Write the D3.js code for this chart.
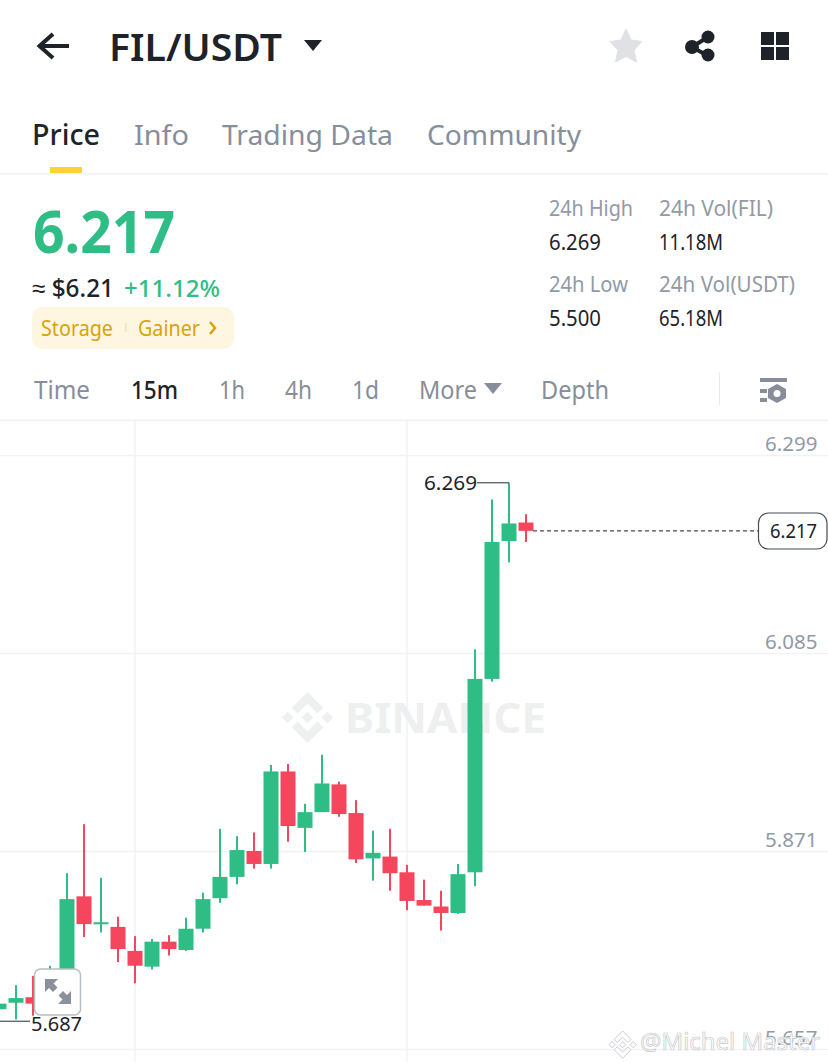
<!DOCTYPE html>
<html>
<head>
<meta charset="utf-8">
<script src="https://cdnjs.cloudflare.com/ajax/libs/d3/7.8.5/d3.min.js"></script>
<style>
  body { margin: 0; background: #fff; overflow: hidden; }
  text { font-family: "Noto Sans", sans-serif; }
</style>
</head>
<body>
<svg id="chart" width="828" height="1063"></svg>
<script>
// candles, left to right
const opens  = [5.700,5.707,5.713,5.713,5.742,5.822,5.792,5.789,5.763,5.746,5.773,5.764,5.787,5.820,5.843,5.871,5.857,5.957,5.896,5.913,5.943,5.912,5.863,5.865,5.848,5.818,5.811,5.804,5.848,6.057,6.206,6.226];
const closes = [5.706,5.712,5.706,5.742,5.819,5.792,5.794,5.765,5.747,5.773,5.765,5.787,5.819,5.843,5.872,5.857,5.957,5.898,5.913,5.944,5.911,5.862,5.869,5.847,5.817,5.812,5.804,5.846,6.057,6.205,6.225,6.217];
const highs  = [5.727,5.726,5.736,5.747,5.847,5.900,5.842,5.800,5.779,5.776,5.780,5.799,5.826,5.895,5.887,5.891,5.964,5.965,5.922,5.975,5.946,5.926,5.893,5.895,5.856,5.840,5.828,5.857,6.089,6.251,6.269,6.235];
const lows   = [5.687,5.689,5.693,5.705,5.738,5.778,5.783,5.751,5.728,5.743,5.758,5.763,5.783,5.815,5.835,5.852,5.852,5.881,5.870,5.913,5.908,5.858,5.839,5.828,5.807,5.812,5.785,5.803,5.833,6.054,6.183,6.205];
const priceTicks = [6.299,6.085,5.871,5.657];
const gridCandles = [8,24];

const tabs = ["Price","Info","Trading Data","Community"];
const intervals = ["Time","15m","1h","4h","1d","More","Depth"];

const GREEN = "#2ebd85", RED = "#f6465d", DARK = "#1e2329", GREY = "#868e9b", LINE = "#f1f2f4";

const svg = d3.select("#chart");
const x = d3.scaleLinear().domain([0, opens.length - 1]).range([-1, 526]);
const y = d3.scaleLinear().domain([5.657, 6.299]).range([1049, 455]);

const label = (parent, str, px, py, size, fill, weight, width) => {
  const t = parent.append("text").attr("x", px).attr("y", py)
    .attr("font-size", size).attr("fill", fill).attr("font-weight", weight || 400).text(str);
  if (width) t.attr("textLength", width).attr("lengthAdjust", "spacingAndGlyphs");
  return t;
}

// header
const head = svg.append("g");
head.append("path").attr("d", "M69 46H40M53 34L39.500 46L53 58").attr("fill", "none").attr("stroke", DARK).attr("stroke-width", 4);
label(head, "FIL/USDT", 109, 61, 37, DARK, 600, 173);
head.append("path").attr("d", "M304 40H322L313 51Z").attr("fill", DARK);
head.append("path").attr("d", "M626 29L631 40L642 41.500L634 50L636.500 62L626 56.500L615.500 62L618 50L610 41.500L621 40Z").attr("fill", "#dfe1e4").attr("stroke", "#dfe1e4").attr("stroke-linejoin", "round");
head.append("path").attr("d", "M708 37L692 47L708 56").attr("fill", "none").attr("stroke", DARK).attr("stroke-width", 4);
[[708,37,6.500],[692,47,7],[708,55,6.500]].forEach(c => head.append("circle").attr("cx", c[0]).attr("cy", c[1]).attr("r", c[2]).attr("fill", DARK));
[[761,32],[776,32],[761,47],[776,47]].forEach(c => head.append("rect").attr("x", c[0]).attr("y", c[1]).attr("width", 13).attr("height", 13).attr("fill", DARK));

// tabs
const tabX = [32,134,222,427], tabW = [68,55,171,154];
tabs.forEach((t, i) => label(head, t, tabX[i], 145, 28, i ? GREY : DARK, i ? 400 : 500, tabW[i]));
head.append("rect").attr("x", 50).attr("y", 167).attr("width", 32).attr("height", 6).attr("fill", "#fcd535");
head.append("rect").attr("x", 0).attr("y", 173).attr("width", 828).attr("height", 1.500).attr("fill", LINE);

// price block
label(head, "6.217", 33, 253, 59, GREEN, 700, 142);
label(head, "≈ $6.21", 32, 297, 25, DARK, 500, 82);
label(head, "+11.12%", 124, 297, 24, GREEN, 500, 96);
head.append("rect").attr("x", 32).attr("y", 307).attr("width", 202).attr("height", 42).attr("rx", 10).attr("fill", "#fef6e0");
label(head, "Storage", 41, 336, 21, "#d8a40b", 400, 72);
head.append("rect").attr("x", 125).attr("y", 323).attr("width", 1.500).attr("height", 9).attr("fill", "#eee2b8");
label(head, "Gainer", 138, 336, 21, "#d8a40b", 400, 62);
head.append("path").attr("d", "M210 322L215 328L210 334").attr("fill", "none").attr("stroke", "#d8a40b").attr("stroke-width", 2.500);

// 24h stats
const statLabels = ["24h High","24h Vol(FIL)","24h Low","24h Vol(USDT)"];
const statValues = ["6.269","11.18M","5.500","65.18M"];
const statX = [549,659,549,659], statW = [84,114,79,136], valW = [52,64,52,64];
statLabels.forEach((t, i) => {
  const row = i < 2 ? 0 : 76;
  label(head, t, statX[i], 216 + row, 21, "#929aa5", 400, statW[i]);
  label(head, statValues[i], statX[i], 250 + row, 21, DARK, 400, valW[i]);
});

// interval row
const intX = [34,131,219,285,352,419,541], intW = [56,47,26,27,27,58,68];
intervals.forEach((t, i) => label(head, t, intX[i], 399, 25, i === 1 ? DARK : GREY, i === 1 ? 500 : 400, intW[i]));
head.append("path").attr("d", "M484 383H502L493 394Z").attr("fill", GREY);
head.append("rect").attr("x", 719).attr("y", 372).attr("width", 1).attr("height", 33).attr("fill", "#e8eaed");
head.append("path").attr("d", "M760 378H787V382H760ZM760 389H767V393H760ZM760 398H767V402H760Z").attr("fill", GREY);
head.append("path").attr("d", "M777 384L786 389V398L777 403L768 398V389Z").attr("fill", GREY);
head.append("circle").attr("cx", 777).attr("cy", 393.500).attr("r", 3.500).attr("fill", "#fff");
head.append("rect").attr("x", 0).attr("y", 419.500).attr("width", 828).attr("height", 1.500).attr("fill", LINE);

// grid, with the price labels sitting above each line
const axis = d3.axisRight(y).tickValues(priceTicks).tickSize(828).tickFormat(d3.format(".3f"));
const axisG = svg.append("g").call(axis);
axisG.select(".domain").remove();
axisG.selectAll("line").attr("stroke", LINE).attr("stroke-width", 1.500);
axisG.selectAll("text")
  .attr("x", 817.500).attr("dy", "-0.2em").attr("text-anchor", "end")
  .attr("font-size", 20.500).attr("font-family", "'Noto Sans', sans-serif").attr("fill", "#929aa5");

svg.append("g").selectAll("line").data(gridCandles).join("line")
  .attr("x1", d => x(d)).attr("x2", d => x(d))
  .attr("y1", 421).attr("y2", 1061)
  .attr("stroke", LINE).attr("stroke-width", 1.500);

// watermark behind the candles
const logoPaths = [
  "M38.73 53.2l24.59-24.58 24.6 24.6 14.3-14.31L63.32 0 24.42 38.9z",
  "M0 63.31l14.3-14.31 14.31 14.31-14.31 14.3z",
  "M38.73 73.41l24.59 24.59 24.6-24.6 14.31 14.29-38.9 38.91-38.91-38.88z",
  "M98 63.31l14.3-14.31 14.31 14.3-14.31 14.32z",
  "M77.83 63.3L63.32 48.78 52.59 59.51l-1.24 1.23-2.54 2.54 14.51 14.5 14.51-14.47z"
];
const mark = svg.append("g").attr("transform", "translate(282,692) scale(0.403)");
logoPaths.forEach(d => mark.append("path").attr("d", d).attr("fill", "#eeefef"));
label(svg, "BINANCE", 345, 733, 42, "#eeefef", 700, 201);

// candles
const candles = svg.append("g").selectAll("g").data(opens.map((o, i) => i)).join("g")
  .attr("fill", i => closes[i] >= opens[i] ? GREEN : RED);
candles.append("rect")
  .attr("x", i => x(i) - 1).attr("width", 2)
  .attr("y", i => y(highs[i])).attr("height", i => y(lows[i]) - y(highs[i]));
candles.append("rect")
  .attr("x", i => x(i) - 7.500).attr("width", 15)
  .attr("y", i => y(Math.max(opens[i], closes[i])))
  .attr("height", i => Math.max(2, Math.abs(y(opens[i]) - y(closes[i]))));

// high, low and last price callouts
const lastPrice = closes[closes.length - 1];
const highIdx = d3.maxIndex(highs), lowIdx = d3.minIndex(lows);
svg.append("line").attr("x1", 477).attr("x2", x(highIdx)).attr("y1", y(highs[highIdx])).attr("y2", y(highs[highIdx])).attr("stroke", "#474d57").attr("stroke-width", 1.200);
label(svg, d3.format(".3f")(highs[highIdx]), 424, 490, 20.500, DARK, 400, 53);
svg.append("line").attr("x1", 0).attr("x2", 30).attr("y1", y(lows[lowIdx])).attr("y2", y(lows[lowIdx])).attr("stroke", "#474d57").attr("stroke-width", 1.200);
label(svg, d3.format(".3f")(lows[lowIdx]), 31, 1031, 20.500, DARK, 400, 51);

svg.append("line").attr("x1", 533).attr("x2", 758).attr("y1", y(lastPrice)).attr("y2", y(lastPrice))
  .attr("stroke", "#474d57").attr("stroke-width", 1.200).attr("stroke-dasharray", "4 3");
svg.append("rect").attr("x", 758.500).attr("y", 513).attr("width", 68.500).attr("height", 36).attr("rx", 10)
  .attr("fill", "#fff").attr("stroke", "#474d57").attr("stroke-width", 1.200);
label(svg, d3.format(".3f")(lastPrice), 770, 538, 20.500, DARK, 400, 47);

// expand button
svg.append("rect").attr("x", 34.500).attr("y", 969).attr("width", 46).attr("height", 46).attr("rx", 6)
  .attr("fill", "#fff").attr("stroke", "#b7bdc6").attr("stroke-width", 1.500);
svg.append("path").attr("d", "M45 979H58L53.500 983.500L57.500 987.500L53 992L49 988L45 992Z").attr("fill", "#8a919c");
svg.append("path").attr("d", "M71 1004H58L62.500 999.500L58.500 995.500L63 991L67 995L71 991Z").attr("fill", "#8a919c");

// corner watermark
const corner = svg.append("g").attr("transform", "translate(609,1031) scale(0.215)");
logoPaths.forEach(d => corner.append("path").attr("d", d).attr("fill", "#fff").attr("stroke", "#bfc3c8").attr("stroke-width", 4));
label(svg, "@Michel Master", 640, 1050, 24, "#fff", 400, 180).attr("stroke", "#c6c9cd").attr("stroke-width", 0.700);
</script>
</body>
</html>
